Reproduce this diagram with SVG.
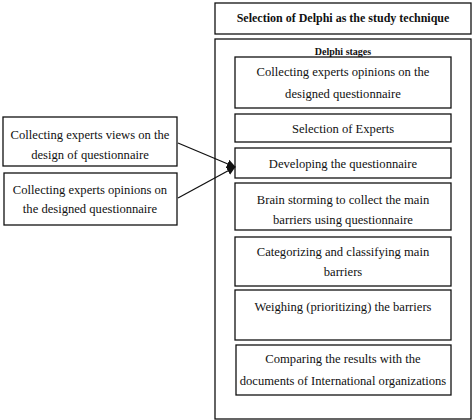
<svg xmlns="http://www.w3.org/2000/svg" width="474" height="420" viewBox="0 0 474 420">
<defs>
<style>
rect{fill:#fff;stroke:#111;stroke-width:1.3}
text{font-family:'Liberation Serif','DejaVu Serif',serif;font-size:12.6px;fill:#111;text-anchor:middle}
.b{font-weight:bold}
.conn line{stroke:#111;stroke-width:1.3;fill:none}
</style>
<marker id="ah" viewBox="0 0 10 10" refX="9" refY="5" markerWidth="9" markerHeight="9" markerUnits="userSpaceOnUse" orient="auto">
<path d="M0,0 L10,5 L0,10 z" fill="#111"/>
</marker>
</defs>
<rect x="0" y="0" width="474" height="420" style="fill:#fff;stroke:none"/>
<g id="title"><rect x="215" y="3" width="256" height="31"/><text class="b" x="343" y="22" style="font-size:12px">Selection of Delphi as the study technique</text></g>
<g id="stages"><rect x="215" y="39" width="256" height="380"/><text class="b" x="343" y="55" style="font-size:10px">Delphi stages</text></g>
<g id="s1"><rect x="235" y="57" width="216" height="51"/><text x="343" y="76">Collecting experts opinions on the</text><text x="343" y="98">designed questionnaire</text></g>
<g id="s2"><rect x="235" y="114" width="216" height="28"/><text x="343" y="133">Selection of Experts</text></g>
<g id="s3"><rect x="235" y="148" width="216" height="30"/><text x="343" y="168">Developing the questionnaire</text></g>
<g id="s4"><rect x="235" y="183" width="216" height="47"/><text x="343" y="204">Brain storming to collect the main</text><text x="343" y="224">barriers using questionnaire</text></g>
<g id="s5"><rect x="235" y="237" width="216" height="49"/><text x="343" y="256">Categorizing and classifying main</text><text x="343" y="276">barriers</text></g>
<g id="s6"><rect x="235" y="290" width="216" height="50"/><text x="343" y="311">Weighing (prioritizing) the barriers</text></g>
<g id="s7"><rect x="236" y="345" width="215" height="50"/><text x="343" y="363">Comparing the results with the</text><text x="343" y="385">documents of International organizations</text></g>
<g id="l1"><rect x="3" y="117" width="174" height="49"/><text x="90" y="139">Collecting experts views on the</text><text x="90" y="159">design of questionnaire</text></g>
<g id="l2"><rect x="4" y="173" width="173" height="52"/><text x="90" y="194">Collecting experts opinions on</text><text x="90" y="213">the designed questionnaire</text></g>
<g class="conn">
<line x1="178" y1="143" x2="235" y2="167" marker-end="url(#ah)"/>
<line x1="178" y1="198" x2="235" y2="167" marker-end="url(#ah)"/>
</g>
</svg>
